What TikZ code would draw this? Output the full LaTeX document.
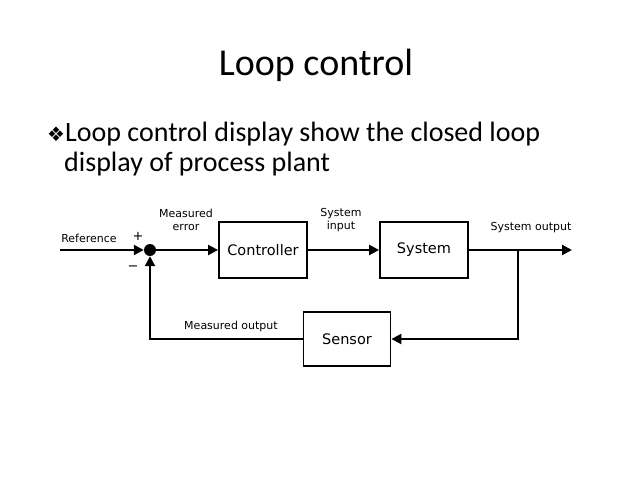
\documentclass[tikz,border=0pt]{standalone}
\usepackage{fontspec}
\setmainfont{Carlito}
\newfontfamily\djv{DejaVu Sans}
\usetikzlibrary{arrows.meta}
\begin{document}
\begin{tikzpicture}[x=1pt,y=-1pt,
 blk/.style={draw,line width=1.8pt,minimum width=88pt,minimum height=56pt,font=\djv\fontsize{14.5}{16}\selectfont},
 ln/.style={line width=2.2pt,-{Triangle[length=10pt,width=10pt]}},
 lab/.style={font=\djv\fontsize{11}{13}\selectfont,align=center}]
\useasboundingbox (0,0) rectangle (638,479);
\node (t) at (316,65) {\fontsize{38}{40}\selectfont Loop control};
\node[anchor=west,inner sep=0pt] (b) at (47,134) {\fontsize{28}{30}\selectfont{\djv\fontsize{20}{28}\selectfont ❖}Loop control display show the closed loop};
\node[anchor=west,inner sep=0pt] (b2) at (64,164) {\fontsize{28}{30}\selectfont display of process plant};
\coordinate (in) at (60,250);
\node[circle,fill,inner sep=0pt,minimum size=12pt] (s) at (150,250) {};
\node[blk] (c) at (263,250) {Controller};
\node[blk] (y) at (424,250) {System};
\node[blk,minimum width=87pt,minimum height=54pt] (n) at (347,339) {Sensor};
\coordinate (br) at (518,250);
\coordinate (out) at (572,250);
\draw[ln] (in) -- (s);
\draw[ln] (s) -- (c);
\draw[ln] (c) -- (y);
\draw[ln] (y) -- (out);
\draw[ln] (br) |- (n);
\draw[ln] (n) -| (s);
\node[lab] at (89,238) {Reference};
\node[lab,font=\djv\fontsize{13}{13}\selectfont] at (138,236) {+};
\node[lab,font=\djv\fontsize{13}{13}\selectfont] at (133,268) {−};
\node[lab] at (186,220) {Measured\\error};
\node[lab] at (341,220) {System\\input};
\node[lab] at (531,228) {System output};
\node[lab] at (231,326) {Measured output};
\end{tikzpicture}
\end{document}
